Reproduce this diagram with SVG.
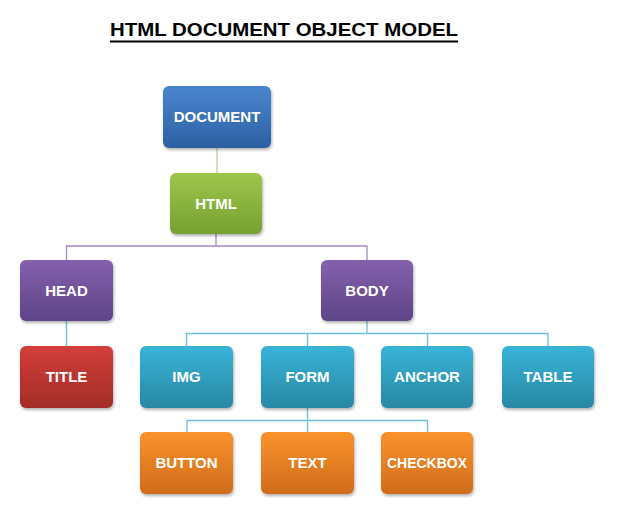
<svg xmlns="http://www.w3.org/2000/svg" width="633" height="511" viewBox="0 0 633 511">
<style>
.box{rx:6;ry:6;filter:url(#sh)}
.lbl{font-family:"Liberation Sans",Arial,sans-serif;font-weight:bold;font-size:15px;fill:#fff;text-anchor:middle}
.c{fill:none;stroke-width:1.3}
.title{font-family:"Liberation Sans",Arial,sans-serif;font-weight:bold;font-size:18px;fill:#000;text-anchor:middle}
</style>
<defs>
<filter id="sh" x="-10%" y="-10%" width="125%" height="130%">
<feDropShadow dx="1" dy="2" stdDeviation="1.5" flood-color="#000" flood-opacity="0.3"/>
</filter>
<linearGradient id="gBlue" x1="0" y1="0" x2="0" y2="1"><stop offset="0" stop-color="#4a86d0"/><stop offset="1" stop-color="#2d60a2"/></linearGradient>
<linearGradient id="gGreen" x1="0" y1="0" x2="0" y2="1"><stop offset="0" stop-color="#9ec64c"/><stop offset="1" stop-color="#76a030"/></linearGradient>
<linearGradient id="gPurple" x1="0" y1="0" x2="0" y2="1"><stop offset="0" stop-color="#8460ac"/><stop offset="1" stop-color="#5e4488"/></linearGradient>
<linearGradient id="gRed" x1="0" y1="0" x2="0" y2="1"><stop offset="0" stop-color="#d43e3a"/><stop offset="1" stop-color="#a22c28"/></linearGradient>
<linearGradient id="gTeal" x1="0" y1="0" x2="0" y2="1"><stop offset="0" stop-color="#38b4d8"/><stop offset="1" stop-color="#2888a4"/></linearGradient>
<linearGradient id="gOrange" x1="0" y1="0" x2="0" y2="1"><stop offset="0" stop-color="#fa922c"/><stop offset="1" stop-color="#d06c1c"/></linearGradient>
</defs>
<rect width="633" height="511" fill="#fff"/>
<g id="title">
<text class="title" x="284" y="36" textLength="348" lengthAdjust="spacingAndGlyphs">HTML DOCUMENT OBJECT MODEL</text>
<rect x="110" y="40.5" width="348" height="2" fill="#000"/>
</g>
<g id="connectors">
<path class="c" stroke="#b8d48c" d="M217 148V173"/>
<path class="c" stroke="#a48cc4" d="M216 234V246M66.5 260V246H367V260"/>
<path class="c" stroke="#6cc0d8" d="M66.5 321V346"/>
<path class="c" stroke="#6cc0d8" d="M367 321V333.5M186.5 346V333.5H548V346M307.5 333.5V346M427.5 333.5V346"/>
<path class="c" stroke="#6cc0d8" d="M307.5 408V420.5M187 432V420.5H427.5V432M307.5 420.5V432"/>
</g>
<g id="document"><rect class="box" x="163" y="86" width="108" height="62" fill="url(#gBlue)"/><text class="lbl" x="217" y="122">DOCUMENT</text></g>
<g id="html"><rect class="box" x="170" y="173" width="92" height="61" fill="url(#gGreen)"/><text class="lbl" x="216" y="209">HTML</text></g>
<g id="head"><rect class="box" x="20" y="260" width="93" height="61" fill="url(#gPurple)"/><text class="lbl" x="66.5" y="296">HEAD</text></g>
<g id="body"><rect class="box" x="321" y="260" width="92" height="61" fill="url(#gPurple)"/><text class="lbl" x="367" y="296">BODY</text></g>
<g id="titlenode"><rect class="box" x="20" y="346" width="93" height="62" fill="url(#gRed)"/><text class="lbl" x="66.5" y="382">TITLE</text></g>
<g id="img"><rect class="box" x="140" y="346" width="93" height="62" fill="url(#gTeal)"/><text class="lbl" x="186.5" y="382">IMG</text></g>
<g id="form"><rect class="box" x="261" y="346" width="93" height="62" fill="url(#gTeal)"/><text class="lbl" x="307.5" y="382">FORM</text></g>
<g id="anchor"><rect class="box" x="381" y="346" width="92" height="62" fill="url(#gTeal)"/><text class="lbl" x="427" y="382">ANCHOR</text></g>
<g id="table"><rect class="box" x="502" y="346" width="92" height="62" fill="url(#gTeal)"/><text class="lbl" x="548" y="382">TABLE</text></g>
<g id="button"><rect class="box" x="140" y="432" width="93" height="62" fill="url(#gOrange)"/><text class="lbl" x="186.5" y="468">BUTTON</text></g>
<g id="text"><rect class="box" x="261" y="432" width="93" height="62" fill="url(#gOrange)"/><text class="lbl" x="307.5" y="468">TEXT</text></g>
<g id="checkbox"><rect class="box" x="381" y="432" width="92" height="62" fill="url(#gOrange)"/><text class="lbl" x="427" y="468" textLength="80" lengthAdjust="spacingAndGlyphs">CHECKBOX</text></g>
</svg>
